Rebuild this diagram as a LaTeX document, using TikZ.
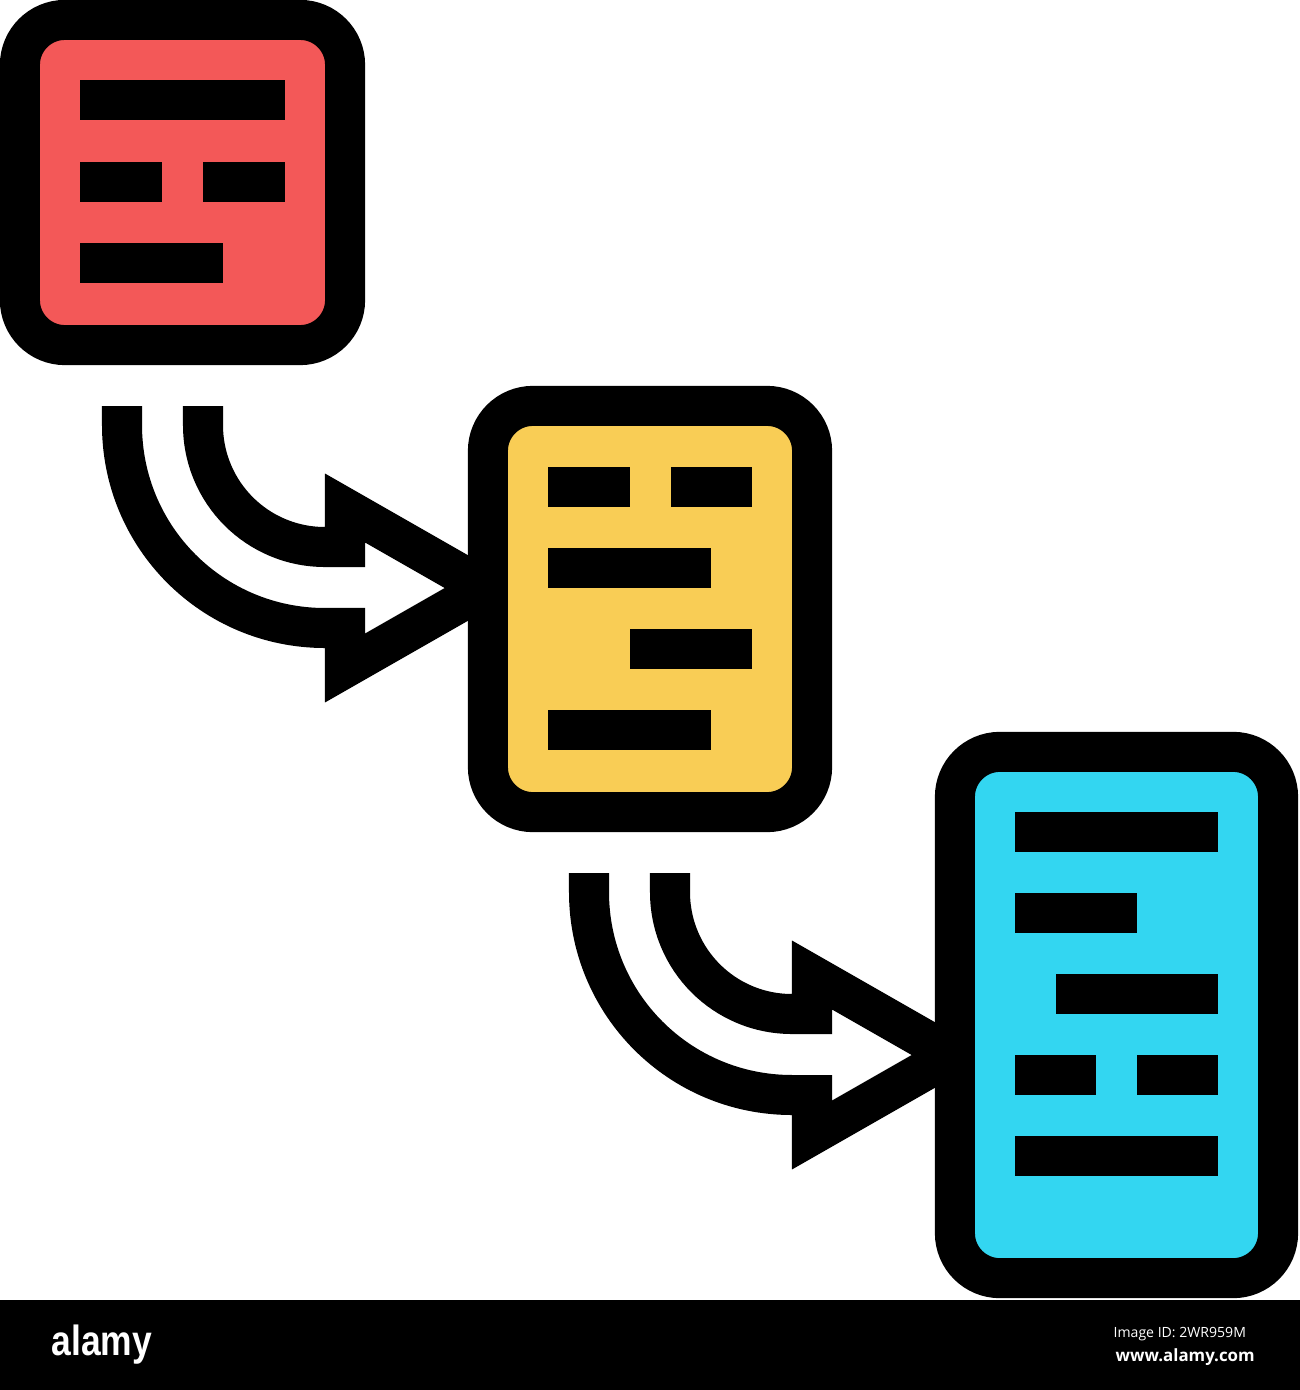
\documentclass[tikz,border=0pt]{standalone}
\usepackage{fontspec}
\setmainfont{Liberation Sans}
\newfontfamily\footfont{Open Sans}
\usepackage{graphicx}
\usepackage{xcolor}
\usetikzlibrary{positioning}
\definecolor{docred}{HTML}{F35858}
\definecolor{docyellow}{HTML}{F9CD55}
\definecolor{doccyan}{HTML}{33D6F1}
\tikzset{
    docbox/.style={
        draw=black,
        line width=0.4cm,
        rounded corners=0.45cm,
        outer sep=0pt,
        inner sep=0pt
    },
    bar/.style={fill=black},
    flowarrow/.style={
        draw=black,
        line width=0.4cm,
        line join=miter
    },
    foottext/.style={text=white, inner sep=0pt, anchor=base west}
}

\begin{document}
\begin{tikzpicture}[x=0.01cm, y=-0.01cm]
    \useasboundingbox (0,0) rectangle (1300,1390);

    % Arrows - first one, then the same one moved down to the next box
    \foreach \s in {0,467} {
      \begin{scope}[shift={(\s,\s)}]
        \draw[flowarrow] (122,406) -- (122,425) to[out=-90,in=180] (325,628)
            -- (345,628) -- (345,668) -- (485,588) -- (345,508) -- (345,547)
            -- (325,547) to[out=180,in=-90] (203,425) -- (203,406);
      \end{scope}
    }

    % Boxes
    \node[docbox, fill=docred, minimum width=3.25cm, minimum height=3.25cm] (doc1) at (182.5,182.5) {};
    \node[docbox, fill=docyellow, minimum width=3.24cm, minimum height=4.06cm] (doc2) at (650,609) {};
    \node[docbox, fill=doccyan, minimum width=3.23cm, minimum height=5.26cm] (doc3) at (1116.5,1015) {};

    % Lines of text in the first box
    \fill[bar] (80,80) rectangle (285,120);
    \fill[bar] (80,162) rectangle (162,202);
    \fill[bar] (203,162) rectangle (285,202);
    \fill[bar] (80,243) rectangle (223,283);

    % Lines of text in the second box
    \fill[bar] (548,467) rectangle (630,507);
    \fill[bar] (671,467) rectangle (752,507);
    \fill[bar] (548,548) rectangle (711,588);
    \fill[bar] (630,629) rectangle (752,669);
    \fill[bar] (548,710) rectangle (711,750);

    % Lines of text in the third box
    \fill[bar] (1015,812) rectangle (1218,852);
    \fill[bar] (1015,893) rectangle (1137,933);
    \fill[bar] (1056,974) rectangle (1218,1014);
    \fill[bar] (1015,1055) rectangle (1096,1095);
    \fill[bar] (1137,1055) rectangle (1218,1095);
    \fill[bar] (1015,1136) rectangle (1218,1176);

    % Footer
    \fill[black] (0,1300) rectangle (1300,1390);
    \node[foottext, font=\bfseries\fontsize{12}{12}\selectfont] (logo) at (51,1355) {\scalebox{0.84}[1]{alamy}};
    \node[foottext, font=\footfont\fontsize{4}{4}\selectfont] (imgid) at (1113,1337) {Image ID: 2WR959M};
    \node[foottext, font=\footfont\bfseries\fontsize{4.8}{4.8}\selectfont] (site) at (1115,1361) {www.alamy.com};
\end{tikzpicture}
\end{document}
